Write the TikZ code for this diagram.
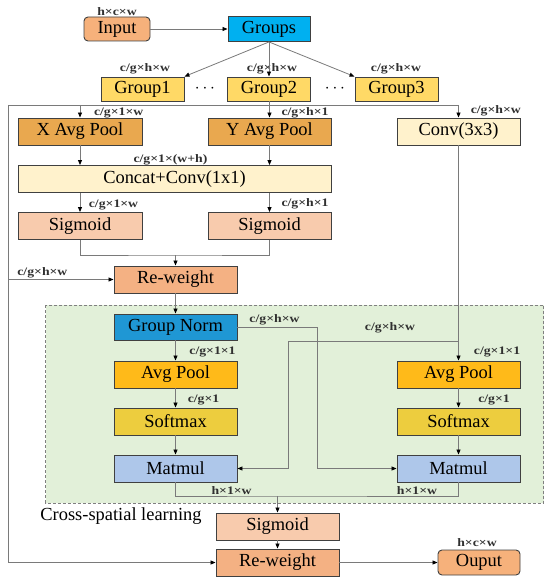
\documentclass[tikz,border=0pt]{standalone}
\usepackage{fontspec}
\setmainfont{Liberation Serif}
\usepackage{graphicx}
\usetikzlibrary{arrows.meta}
\definecolor{inpor}{HTML}{F6B17B}
\definecolor{grpblue}{HTML}{00B0F0}
\definecolor{grpyel}{HTML}{FFD966}
\definecolor{xapor}{HTML}{E9A84F}
\definecolor{lightyel}{HTML}{FFF2CC}
\definecolor{sigpink}{HTML}{F8CBAD}
\definecolor{rwsal}{HTML}{F4B183}
\definecolor{gnblue}{HTML}{1F97D4}
\definecolor{apgold}{HTML}{FFBA19}
\definecolor{smgold}{HTML}{EDCD3E}
\definecolor{mmblue}{HTML}{AEC7EA}
\definecolor{greenbg}{HTML}{E2F0D9}
\definecolor{linecol}{HTML}{7A7A7A}
\definecolor{boxline}{HTML}{404040}
\definecolor{labcol}{HTML}{303030}
\newcommand{\lb}[1]{\scalebox{1.2}[1]{#1}}
\tikzset{
  box/.style={draw=boxline, line width=0.9bp, minimum width=123bp, minimum height=27bp,
              inner sep=0pt, font=\fontsize{18.5}{20}\selectfont},
  lab/.style={font=\fontsize{11.5}{13}\selectfont\bfseries, inner sep=0pt, text=labcol},
  conn/.style={draw=linecol, line width=0.8bp},
  arr/.style={conn, -{Triangle[length=5bp,width=4bp,color=black]}},
}
\begin{document}
\begin{tikzpicture}[x=1bp,y=-1bp]
\useasboundingbox (0,0) rectangle (550,581);
% green dashed area
\draw[draw=gray, dashed, line width=0.8bp, fill=greenbg, dash pattern=on 3bp off 2bp] (45.5,305) rectangle (543.5,503);
% top
\node[box, fill=inpor, minimum width=66bp, minimum height=24bp, rounded corners=4bp] (inp) at (117,29) {Input};
\node[box, fill=grpblue, minimum width=82bp, minimum height=25bp] (grp) at (269,29) {Groups};
\node[box, fill=grpyel, minimum width=83bp, minimum height=24bp] (g1) at (142.5,89) {Group1};
\node[box, fill=grpyel, minimum width=83bp, minimum height=24bp] (g2) at (269,89) {Group2};
\node[box, fill=grpyel, minimum width=83bp, minimum height=24bp] (g3) at (396.5,89) {Group3};
\node[font=\fontsize{18}{20}\selectfont] (d1) at (205,89) {$\cdots$};
\node[font=\fontsize{18}{20}\selectfont] (d2) at (335,89) {$\cdots$};
\node[lab] (linp) at (117,12) {\lb{h×c×w}};
\node[lab] (lg1) at (145,69) {\lb{c/g×h×w}};
\node[lab] (lg2) at (272,69) {\lb{c/g×h×w}};
\node[lab] (lg3) at (396,69) {\lb{c/g×h×w}};
\draw[arr] (inp.east) -- (grp.west);
\draw[arr] (grp.south) -- (g1.north east);
\draw[arr] (grp.south) -- (g2.north);
\draw[arr] (grp.south) -- (g3.north west);
% second row
\node[box, fill=xapor, minimum width=124bp] (xap) at (80,131.5) {X Avg Pool};
\node[box, fill=xapor] (yap) at (269.5,131.5) {Y Avg Pool};
\node[box, fill=lightyel] (conv) at (458.5,131.5) {Conv(3x3)};
\coordinate (bus) at (269,105);
\coordinate (busL) at (8.8,105);
\coordinate (busX) at (80,105);
\coordinate (busY) at (269.5,105);
\coordinate (busC) at (458.5,105);
\draw[conn] (g2.south) -- (bus);
\draw[conn] (busL) -- (busC);
\draw[arr] (busX) -- (xap.north);
\draw[arr] (busY) -- (yap.north);
\draw[arr] (busC) -- (conv.north);
\node[lab] (lxap) at (118.7,112.5) {\lb{c/g×1×w}};
\node[lab] (lyap) at (305,112.5) {\lb{c/g×h×1}};
\node[lab] (lconv) at (495.8,110.5) {\lb{c/g×h×w}};
% concat
\node[box, fill=lightyel, minimum width=313bp] (cat) at (174.5,179) {Concat+Conv(1x1)};
\node[lab] (lcat) at (170.5,160) {\lb{c/g×1×(w+h)}};
\draw[arr] (xap.south) -- (xap.south |- cat.north);
\draw[arr] (yap.south) -- (yap.south |- cat.north);
% sigmoids
\node[box, fill=sigpink, minimum width=124bp] (s1) at (80,226) {Sigmoid};
\node[box, fill=sigpink] (s2) at (269.5,226) {Sigmoid};
\draw[arr] (s1.north |- cat.south) -- (s1.north);
\draw[arr] (s2.north |- cat.south) -- (s2.north);
\node[lab] (ls1) at (113.5,204.5) {\lb{c/g×1×w}};
\node[lab] (ls2) at (305,204) {\lb{c/g×h×1}};
% re-weight 1
\node[box, fill=rwsal] (rw1) at (175.5,279.5) {Re-weight};
\coordinate (j1) at (175.5,255);
\draw[conn] (s1.south) |- (j1) -| (s2.south);
\draw[arr] (j1) -- (rw1.north);
\coordinate (lrw) at (8.8,279.5);
\draw[arr] (lrw) -- (rw1.west);
\node[lab] (lrwl) at (42.4,272.5) {\lb{c/g×h×w}};
% cross-spatial
\node[box, fill=gnblue, minimum height=26bp] (gn) at (175.5,327) {Group Norm};
\node[box, fill=apgold] (ap1) at (175.5,374.5) {Avg Pool};
\node[box, fill=smgold] (sm1) at (175.5,421.5) {Softmax};
\node[box, fill=mmblue] (mm1) at (175.5,468.5) {Matmul};
\node[box, fill=apgold] (ap2) at (458.5,374.5) {Avg Pool};
\node[box, fill=smgold] (sm2) at (458.5,421.5) {Softmax};
\node[box, fill=mmblue] (mm2) at (458.5,468.5) {Matmul};
\draw[arr] (rw1.south) -- (gn.north);
\draw[arr] (gn.south) -- (ap1.north);
\draw[arr] (ap1.south) -- (sm1.north);
\draw[arr] (sm1.south) -- (mm1.north);
\draw[arr] (conv.south) -- (ap2.north);
\draw[arr] (ap2.south) -- (sm2.north);
\draw[arr] (sm2.south) -- (mm2.north);
\node[lab] (lap1) at (212.5,352) {\lb{c/g×1×1}};
\node[lab] (lap2) at (497,352) {\lb{c/g×1×1}};
\node[lab] (lsm1) at (203.5,399.5) {\lb{c/g×1}};
\node[lab] (lsm2) at (494,399.5) {\lb{c/g×1}};
\coordinate (gnb) at (317.5,327);
\draw[arr] (gn.east) -- (gnb) |- (mm2.west);
\coordinate (cva) at (458.5,341);
\coordinate (cvb) at (288.5,341);
\draw[arr] (cva) -- (cvb) |- (mm1.east);
\node[lab] (lgn) at (274.5,319.5) {\lb{c/g×h×w}};
\node[lab] (lcv) at (390,328) {\lb{c/g×h×w}};
\coordinate (j2) at (277.5,496);
\draw[conn] (mm1.south) |- (j2) -| (mm2.south);
\node[lab] (lm1) at (231.6,491) {\lb{h×1×w}};
\node[lab] (lm2) at (417,491) {\lb{h×1×w}};
\node[font=\fontsize{18.5}{20}\selectfont, inner sep=0pt] (csl) at (121,516) {Cross-spatial learning};
% bottom
\node[box, fill=sigpink] (s3) at (277.5,526.5) {Sigmoid};
\node[box, fill=rwsal] (rw2) at (277.5,562.5) {Re-weight};
\node[box, fill=inpor, minimum width=82bp, minimum height=25bp, rounded corners=4bp] (out) at (479,562.5) {Ouput};
\node[lab] (lout) at (477,543) {\lb{h×c×w}};
\draw[arr] (j2) -- (s3.north);
\draw[arr] (s3.south) -- (rw2.north);
\draw[arr] (rw2.east) -- (out.west);
\coordinate (lb) at (8.8,562.5);
\draw[arr] (busL) -- (lb) -- (rw2.west);
\end{tikzpicture}
\end{document}
